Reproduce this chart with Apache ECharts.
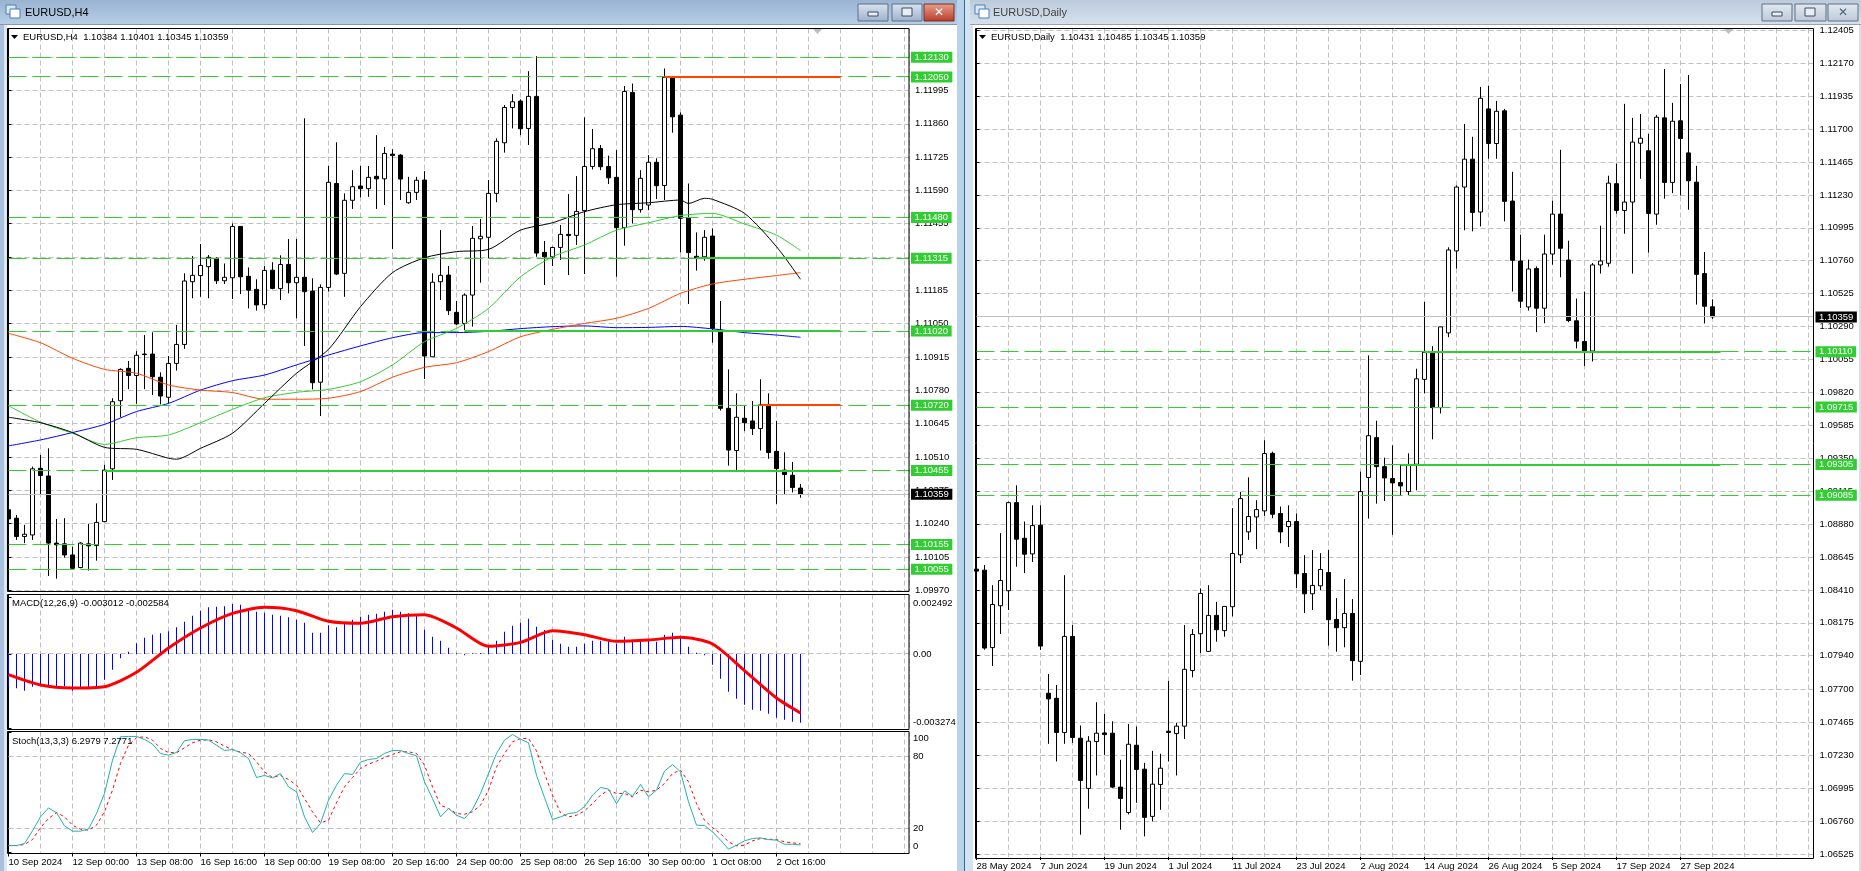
<!DOCTYPE html>
<html>
<head>
<meta charset="utf-8">
<title>EURUSD</title>
<style>
  html, body { margin: 0; padding: 0; background: #fff; overflow: hidden; }
  #chart { width: 1861px; height: 871px; }
</style>
<script src="https://cdn.jsdelivr.net/npm/echarts@6/dist/echarts.min.js"></script>
</head>
<body>
<div id="chart"></div>
<script>
// H4 candles
const h4Open = [
  1.10296,1.10262,1.10188,1.10194,1.10464,1.10433,1.10161,1.10158,1.10113,1.10062,
  1.10158,1.10151,1.10248,1.10462,1.10738,1.10869,1.10840,1.10927,1.10927,1.10833,
  1.10752,1.10889,1.10966,1.11220,1.11245,1.11281,1.11315,1.11224,1.11236,1.11444,
  1.11242,1.11189,1.11127,1.11267,1.11192,1.11290,1.11216,1.11238,1.11182,1.10813,
  1.11197,1.11618,1.11254,1.11550,1.11608,1.11597,1.11647,1.11637,1.11737,1.11733,
  1.11540,1.11582,1.11632,1.10916,1.11220,1.11247,1.11096,1.11051,1.11166,1.11394,
  1.11400,1.11578,1.11783,1.11926,1.11952,1.11841,1.11971,1.11339,1.11321,1.11359,
  1.11412,1.11408,1.11508,1.11687,1.11760,1.11687,1.11643,1.11439,1.11987,1.11512,
  1.11531,1.11704,1.11610,1.12048,1.11895,1.11479,1.11323,1.11321,1.11405,1.11024,
  1.10707,1.10536,1.10667,1.10656,1.10625,1.10723,1.10533,1.10457,1.10436,1.10384
];
const h4High = [
  1.10343,1.10275,1.10235,1.10471,1.10518,1.10545,1.10259,1.10262,1.10147,1.10165,
  1.10239,1.10322,1.10478,1.10748,1.10869,1.10899,1.10939,1.11004,1.11015,1.10853,
  1.10919,1.11045,1.11254,1.11324,1.11373,1.11328,1.11319,1.11294,1.11456,1.11444,
  1.11278,1.11230,1.11284,1.11299,1.11327,1.11393,1.11393,1.11882,1.11234,1.11209,
  1.11689,1.11785,1.11578,1.11672,1.11689,1.11689,1.11814,1.11766,1.11757,1.11737,
  1.11645,1.11645,1.11668,1.11254,1.11429,1.11284,1.11142,1.11173,1.11446,1.11474,
  1.11632,1.11801,1.11936,1.11980,1.11959,1.12073,1.12134,1.11385,1.11362,1.11450,
  1.11575,1.11648,1.11886,1.11839,1.11774,1.11731,1.11753,1.12013,1.12023,1.11672,
  1.11733,1.11720,1.12084,1.12048,1.11906,1.11618,1.11420,1.11429,1.11436,1.11142,
  1.10865,1.10768,1.10717,1.10737,1.10825,1.10768,1.10656,1.10529,1.10490,1.10401
];
const h4Low = [
  1.10161,1.10174,1.10161,1.10174,1.10360,1.10028,1.10017,1.10102,1.10057,1.10059,
  1.10050,1.10090,1.10245,1.10417,1.10671,1.10785,1.10725,1.10785,1.10761,1.10723,
  1.10727,1.10860,1.10948,1.11153,1.11159,1.11153,1.11211,1.11211,1.11150,1.11170,
  1.11112,1.11103,1.11110,1.11189,1.11146,1.11173,1.11072,1.10960,1.10784,1.10676,
  1.11180,1.11247,1.11159,1.11515,1.11562,1.11564,1.11515,1.11531,1.11353,1.11551,
  1.11536,1.11551,1.10826,1.10916,1.11146,1.11085,1.11045,1.11024,1.11038,1.11216,
  1.11315,1.11542,1.11743,1.11841,1.11814,1.11774,1.11321,1.11207,1.11284,1.11308,
  1.11247,1.11369,1.11251,1.11675,1.11672,1.11616,1.11240,1.11366,1.11456,1.11500,
  1.11510,1.11555,1.11551,1.11824,1.11339,1.11130,1.11265,1.11305,1.10973,1.10698,
  1.10475,1.10455,1.10615,1.10599,1.10536,1.10503,1.10320,1.10360,1.10366,1.10345
];
const h4Close = [
  1.10259,1.10188,1.10197,1.10462,1.10435,1.10161,1.10154,1.10113,1.10059,1.10161,
  1.10150,1.10245,1.10457,1.10734,1.10865,1.10840,1.10922,1.10925,1.10835,1.10757,
  1.10889,1.10966,1.11223,1.11246,1.11286,1.11319,1.11224,1.11238,1.11444,1.11240,
  1.11186,1.11126,1.11266,1.11193,1.11290,1.11216,1.11238,1.11180,1.10811,1.11197,
  1.11623,1.11251,1.11550,1.11605,1.11597,1.11643,1.11637,1.11740,1.11731,1.11636,
  1.11582,1.11631,1.10919,1.11218,1.11246,1.11103,1.11049,1.11166,1.11396,1.11404,
  1.11578,1.11789,1.11926,1.11949,1.11840,1.11971,1.11336,1.11321,1.11359,1.11412,
  1.11407,1.11505,1.11687,1.11759,1.11686,1.11641,1.11439,1.11991,1.11512,1.11639,
  1.11704,1.11609,1.12048,1.11888,1.11477,1.11338,1.11317,1.11400,1.11031,1.10707,
  1.10538,1.10671,1.10649,1.10625,1.10721,1.10528,1.10463,1.10439,1.10386,1.10359
];

// moving averages, read at these bars
const maBars = [0,4,8,12,16,20,24,28,32,36,40,44,48,52,56,60,64,68,72,76,80,84,88,92,96,99];
const maBlackBars = [0,4,8,12,16,20,21,24,28,32,36,40,44,48,52,56,60,64,68,72,76,80,84,85,87,88,92,96,99];
const maBlack = [
  1.10671,1.10649,1.10609,1.10549,1.10541,1.10505,1.10501,1.10545,1.10606,1.10727,
  1.10849,1.10946,1.11119,1.11257,1.11317,1.11342,1.11351,1.11429,1.11459,1.11504,
  1.11532,1.11540,1.11551,1.11537,1.11558,1.11554,1.11497,1.11362,1.11230
];
const maGreen = [
  1.10718,1.10651,1.10606,1.10561,1.10588,1.10599,1.10649,1.10703,1.10750,1.10772,
  1.10784,1.10815,1.10883,1.10977,1.11031,1.11112,1.11240,1.11321,1.11369,1.11429,
  1.11459,1.11488,1.11497,1.11454,1.11409,1.11346
];
const maOrange = [
  1.11011,1.10973,1.10910,1.10865,1.10849,1.10802,1.10781,1.10771,1.10744,1.10744,
  1.10748,1.10775,1.10833,1.10873,1.10892,1.10937,1.10997,1.11027,1.11051,1.11072,
  1.11112,1.11173,1.11211,1.11230,1.11245,1.11257
];
const maBlue = [
  1.10555,1.10579,1.10609,1.10642,1.10694,1.10727,1.10781,1.10819,1.10842,1.10883,
  1.10923,1.10960,1.10993,1.11014,1.11014,1.11019,1.11030,1.11038,1.11041,1.11034,
  1.11035,1.11039,1.11029,1.11014,1.11004,1.10995
];

// MACD panel
const macdHist = [
  -0.001417,-0.001505,-0.001607,-0.001432,-0.001388,-0.001388,-0.001417,-0.001417,-0.001607,-0.001490,
  -0.001490,-0.001461,-0.001125,-0.000687,-0.000190,0.000102,0.000468,0.000716,0.000847,0.000906,
  0.000993,0.001169,0.001417,0.001680,0.001899,0.002045,0.002075,0.002089,0.002192,0.002162,
  0.001972,0.001855,0.001812,0.001724,0.001680,0.001607,0.001505,0.001373,0.000935,0.000935,
  0.001256,0.001169,0.001388,0.001505,0.001636,0.001724,0.001768,0.001855,0.001943,0.001855,
  0.001782,0.001680,0.001067,0.000760,0.000584,0.000278,0.000029,-0.000058,0.000029,0.000044,
  0.000365,0.000584,0.000979,0.001242,0.001373,0.001549,0.001198,0.001052,0.000628,0.000453,
  0.000321,0.000321,0.000453,0.000584,0.000584,0.000584,0.000453,0.000760,0.000628,0.000584,
  0.000584,0.000541,0.000847,0.000935,0.000701,0.000321,0.000058,-0.000058,-0.000468,-0.001081,
  -0.001651,-0.001958,-0.002221,-0.002440,-0.002484,-0.002615,-0.002791,-0.002878,-0.002966,-0.003012
];
const macdSignal = [
  -0.000906,-0.001359,-0.001490,-0.001432,-0.000804,0.000263,0.001140,0.001782,0.002045,0.001899,
  0.001432,0.001344,0.001636,0.001724,0.001140,0.000336,0.000511,0.001023,0.000847,0.000555,
  0.000614,0.000731,0.000438,-0.000731,-0.001929,-0.002584
];

// stochastic panel
const stochMain = [
  5.8,5.8,7.5,18.1,29.7,37.2,33.1,22.2,17.8,17.8,
  19.7,32.5,49.2,76.9,96.4,96.7,96.7,94.2,90.3,82.5,
  81.1,83.3,93.1,94.2,94.2,93.6,89.4,85.0,85.8,83.1,
  78.3,62.5,64.2,62.2,65.8,54.7,50.6,29.7,16.7,24.2,
  43.6,56.1,65.8,65.0,75.3,77.5,78.3,82.5,85.0,85.0,
  82.5,80.6,58.9,45.0,29.7,36.7,31.1,28.3,35.8,49.2,
  65.8,82.5,93.6,98.3,94.4,91.4,64.4,45.8,27.5,29.7,
  32.5,33.3,38.1,47.8,54.2,52.8,40.8,51.4,46.9,56.7,
  46.4,51.9,67.8,73.3,67.2,42.2,22.8,22.5,17.2,10.3,
  2.8,6.1,9.7,11.7,12.2,10.8,10.3,6.9,6.9,6.2979
];
const stochSignal = [
  5.8,5.8,6.7,10.8,20.8,28.3,33.3,29.7,22.8,19.4,
  18.6,22.8,33.9,51.9,74.2,89.4,95.6,96.4,93.6,86.7,
  83.3,83.1,87.2,91.4,93.6,93.9,92.2,88.6,85.8,83.6,
  82.5,75.6,67.2,62.5,64.2,60.8,56.1,45.0,33.9,24.7,
  26.9,41.4,54.7,62.5,70.0,73.6,76.1,79.2,81.7,83.9,
  83.9,82.5,72.8,54.7,39.4,36.7,32.5,31.9,33.9,39.4,
  51.9,71.4,82.5,92.2,95.0,95.0,84.7,65.8,47.8,33.1,
  29.7,31.1,34.7,40.8,47.8,51.9,49.2,49.2,46.4,51.9,
  50.6,51.9,57.5,65.8,68.6,58.9,40.8,26.9,20.8,15.8,
  8.9,5.6,6.1,9.7,11.7,11.1,10.8,8.9,8.1,7.2771
];

// daily candles
const dayOpen = [
  1.08558,1.08551,1.07998,1.08297,1.08404,1.09033,1.08779,1.08667,1.08872,1.07672,
  1.07636,1.07392,1.08078,1.07351,1.06993,1.07327,1.07389,1.07387,1.07002,1.06821,
  1.07301,1.07130,1.06793,1.07021,1.07401,1.07384,1.07437,1.07834,1.08097,1.07971,
  1.08228,1.08119,1.08290,1.08660,1.08824,1.08931,1.08974,1.09385,1.08955,1.08862,
  1.08898,1.08527,1.08382,1.08439,1.08534,1.08199,1.08140,1.08242,1.07900,1.09212,
  1.09497,1.09290,1.09205,1.09176,1.09112,1.09307,1.09913,1.10107,1.09711,1.10245,
  1.10830,1.11286,1.11485,1.11108,1.11844,1.11597,1.11830,1.11186,1.10758,1.10430,
  1.10704,1.10421,1.10808,1.11093,1.10765,1.10331,1.10183,1.10115,1.10730,1.10742,
  1.11310,1.11119,1.11179,1.11599,1.11545,1.11093,1.11780,1.11319,1.11759,1.11530,
  1.11321,1.10668,1.10431
];
const dayHigh = [
  1.08884,1.08587,1.08444,1.08815,1.09040,1.09157,1.08898,1.09014,1.09014,1.07810,
  1.07731,1.08515,1.08159,1.07442,1.07366,1.07608,1.07525,1.07472,1.07197,1.07453,
  1.07434,1.07175,1.07261,1.07240,1.07760,1.07461,1.08159,1.08130,1.08420,1.08444,
  1.08325,1.08292,1.08993,1.09109,1.09214,1.09050,1.09478,1.09397,1.09005,1.09014,
  1.08955,1.08658,1.08694,1.08672,1.08694,1.08351,1.08487,1.08344,1.09254,1.10084,
  1.09618,1.09354,1.09442,1.09302,1.09385,1.09989,1.10466,1.10150,1.10288,1.10856,
  1.11298,1.11737,1.11645,1.12001,1.12008,1.11901,1.11844,1.11395,1.10946,1.10768,
  1.10720,1.10946,1.11188,1.11552,1.10903,1.10490,1.10540,1.10744,1.11010,1.11367,
  1.11454,1.11880,1.11780,1.11808,1.11666,1.11801,1.12129,1.11887,1.12022,1.12086,
  1.11438,1.10822,1.10485
];
const dayLow = [
  1.08451,1.07983,1.07867,1.08095,1.08266,1.08575,1.08530,1.08610,1.07981,1.07311,
  1.07185,1.07311,1.07318,1.06662,1.06848,1.07085,1.07232,1.06995,1.06698,1.06807,
  1.06890,1.06650,1.06757,1.06840,1.07185,1.07085,1.07346,1.07786,1.07959,1.07969,
  1.08040,1.08076,1.08221,1.08601,1.08767,1.08701,1.08938,1.08922,1.08743,1.08717,
  1.08423,1.08245,1.08266,1.08408,1.08012,1.07969,1.08000,1.07762,1.07803,1.08919,
  1.09026,1.09045,1.08803,1.09088,1.09088,1.09121,1.09813,1.09485,1.09670,1.10214,
  1.10704,1.10977,1.10970,1.11005,1.11488,1.11488,1.11041,1.10540,1.10423,1.10404,
  1.10250,1.10314,1.10732,1.10642,1.10321,1.10134,1.10008,1.10041,1.10668,1.10718,
  1.11096,1.10953,1.10668,1.11345,1.10818,1.11017,1.11203,1.11243,1.11226,1.11124,
  1.10447,1.10312,1.10345
];
const dayClose = [
  1.08544,1.07995,1.08306,1.08477,1.09033,1.08772,1.08665,1.08869,1.08009,1.07632,
  1.07392,1.08078,1.07356,1.07050,1.07330,1.07387,1.07377,1.07002,1.06921,1.07308,
  1.07128,1.06786,1.07023,1.07137,1.07392,1.07437,1.07843,1.08092,1.08385,1.08228,
  1.08126,1.08292,1.08670,1.09062,1.08934,1.08983,1.09383,1.08950,1.08824,1.08898,
  1.08525,1.08382,1.08442,1.08556,1.08197,1.08140,1.08242,1.07905,1.09112,1.09511,
  1.09290,1.09209,1.09174,1.09152,1.09300,1.09917,1.10107,1.09711,1.10288,1.10837,
  1.11286,1.11485,1.11105,1.11920,1.11597,1.11827,1.11184,1.10763,1.10471,1.10701,
  1.10421,1.10808,1.11093,1.10849,1.10333,1.10186,1.10115,1.10730,1.10758,1.11314,
  1.11119,1.11179,1.11607,1.11635,1.11098,1.11785,1.11319,1.11756,1.11633,1.11331,
  1.10663,1.10435,1.10359
];

// tick labels
const h4TimeLabels = ['10 Sep 2024','12 Sep 00:00','13 Sep 08:00','16 Sep 16:00','18 Sep 00:00','19 Sep 08:00','20 Sep 16:00','24 Sep 00:00','25 Sep 08:00','26 Sep 16:00','30 Sep 00:00','1 Oct 08:00','2 Oct 16:00'];
const dayTimeLabels = ['28 May 2024','7 Jun 2024','19 Jun 2024','1 Jul 2024','11 Jul 2024','23 Jul 2024','2 Aug 2024','14 Aug 2024','26 Aug 2024','5 Sep 2024','17 Sep 2024','27 Sep 2024'];
const h4PriceTicks = [1.1213,1.11995,1.1186,1.11725,1.1159,1.11455,1.1132,1.11185,1.1105,1.10915,1.1078,1.10645,1.1051,1.10375,1.1024,1.10105,1.0997];
const dayPriceTicks = [1.12405,1.1217,1.11935,1.117,1.11465,1.1123,1.10995,1.1076,1.10525,1.1029,1.10055,1.0982,1.09585,1.0935,1.09115,1.0888,1.08645,1.0841,1.08175,1.0794,1.077,1.07465,1.0723,1.06995,1.0676,1.06525];
const macdTicks = [0.002492,0,-0.003274];
const stochTicks = [100,80,20,0];
const stochLevels = [80,20];

// horizontal levels: dashed across with a tag, solid pieces are [price, fromBar, toBar]
const h4Levels = [1.1213,1.1205,1.1148,1.11315,1.1102,1.1072,1.10455,1.10155,1.10055];
const h4GreenRuns = [[1.11315,86,104],[1.1102,57,104],[1.10455,12,104]];
const h4RedRuns = [[1.1205,82,104],[1.1072,94,104]];
const dayLevels = [1.1011,1.09715,1.09305,1.09085];
const dayGreenRuns = [[1.1011,56,93],[1.09305,53,93]];
const lastPrice = 1.10359;

const FONT = "'Liberation Sans',sans-serif";
const FONT_SIZE = 9.5;
const GREEN = '#32cd32';
const RED_LINE = '#ff4500';
const GRID_COLOR = '#c0c0c0';
const H4_MAX = 112.56;
const DAY_MAX = 104.62;

const chart = echarts.init(document.getElementById('chart'));

function candles(o, h, l, c) {
  return o.map((v, i) => [i, v, c[i], l[i], h[i]]);
}
function zip(xs, ys) {
  return xs.map((x, i) => [x, ys[i]]);
}
function onBars(ys) {
  return ys.map((y, i) => [i, y]);
}

function candleSeries(axis, data) {
  return {
    type: 'candlestick', xAxisIndex: axis, yAxisIndex: axis, data: data, clip: false,
    barWidth: 4, silent: true, z: 2,
    itemStyle: { color: '#fff', color0: '#000', borderColor: '#000', borderColor0: '#000', borderWidth: 1 }
  };
}
function lineSeries(axis, data, color, width, extra) {
  return Object.assign({
    type: 'line', xAxisIndex: axis, yAxisIndex: axis, data: data, showSymbol: false, silent: true, z: 3,
    lineStyle: { color: color, width: width }
  }, extra || {});
}
function maSeries(axis, data, color, width) {
  return lineSeries(axis, data, color, width, { smooth: 0.25 });
}
// flat price lines snapped to whole pixels, rows are [price, fromBar, toBar]
function flatLines(axis, rows, color, width, dash, z) {
  return {
    type: 'custom', xAxisIndex: axis, yAxisIndex: axis, silent: true, z: z, clip: false,
    data: rows, encode: { x: [1, 2], y: 0 },
    renderItem: function (params, api) {
      const a = api.coord([api.value(1), api.value(0)]);
      const b = api.coord([api.value(2), api.value(0)]);
      const y = width % 2 ? Math.floor(a[1]) + 0.5 : Math.round(a[1]);
      return {
        type: 'line', shape: { x1: a[0], y1: y, x2: b[0], y2: y },
        style: { stroke: color, lineWidth: width, lineDash: dash, fill: null }
      };
    }
  };
}
// the tags at the right of the price scale
function tagSeries(axis, values, bg) {
  return {
    type: 'line', xAxisIndex: axis, yAxisIndex: axis, data: [], silent: true,
    markLine: {
      silent: true, symbol: 'none', animation: false, precision: 5,
      lineStyle: { color: 'rgba(0,0,0,0)', width: 0 },
      label: {
        position: 'end', distance: 2, color: '#fff', backgroundColor: bg, fontFamily: FONT, fontSize: FONT_SIZE,
        padding: [1, 3.5, 0, 3.5], lineHeight: 10, formatter: p => p.value.toFixed(5)
      },
      data: values.map(v => ({ yAxis: v }))
    }
  };
}
function levelRows(levels, maxBar) {
  return levels.map(v => [v, 0, maxBar]);
}
function runRows(runs) {
  return runs.map(r => [r[0], r[1], r[2]]);
}

// vertical grid every 4 bars
function barAxis(gridIndex, maxBar) {
  return {
    type: 'value', gridIndex: gridIndex, min: 0, max: maxBar, interval: 4,
    axisLine: { show: false }, axisTick: { show: false }, axisLabel: { show: false },
    splitLine: { show: true, lineStyle: { color: GRID_COLOR, width: 1, type: [5, 3] } }
  };
}
// time labels every 8 bars, left aligned on the tick
function timeAxis(gridIndex, maxBar, labels) {
  const ticks = labels.map((_, k) => k * 8);
  return {
    type: 'value', gridIndex: gridIndex, min: 0, max: maxBar, position: 'bottom',
    axisLine: { show: false }, splitLine: { show: false },
    axisTick: { show: true, length: 3, inside: false, customValues: ticks, lineStyle: { color: '#000' } },
    axisLabel: {
      show: true, customValues: ticks, align: 'left', margin: 4, color: '#000', fontFamily: FONT, fontSize: FONT_SIZE,
      hideOverlap: false, formatter: v => labels[Math.round(v / 8)]
    }
  };
}
function priceAxis(gridIndex, min, max, ticks) {
  return {
    type: 'value', gridIndex: gridIndex, position: 'right', min: min, max: max, scale: true,
    axisLine: { show: true, lineStyle: { color: '#000' } },
    axisTick: { show: true, length: 3, customValues: ticks, lineStyle: { color: '#000' } },
    axisLabel: {
      customValues: ticks, margin: 6, color: '#000', fontFamily: FONT, fontSize: FONT_SIZE,
      hideOverlap: false, formatter: v => v.toFixed(5)
    },
    splitLine: { show: true, lineStyle: { color: GRID_COLOR, width: 1, type: [5, 3] } }
  };
}
// MACD and stochastic: outer labels sit inside the panel, so they are nudged by padding
function indicatorAxis(gridIndex, min, max, ticks, format) {
  return {
    type: 'value', gridIndex: gridIndex, position: 'right', min: min, max: max,
    axisLine: { show: true, lineStyle: { color: '#000' } },
    axisTick: { show: true, length: 3, customValues: ticks, lineStyle: { color: '#000' } },
    axisLabel: {
      customValues: ticks, margin: 4, color: '#000', fontFamily: FONT, fontSize: FONT_SIZE, hideOverlap: false,
      formatter: format,
      rich: {
        down: { fontFamily: FONT, fontSize: FONT_SIZE, padding: [12, 0, 0, 0] },
        up: { fontFamily: FONT, fontSize: FONT_SIZE, padding: [0, 0, 12, 0] }
      }
    },
    splitLine: { show: false }
  };
}

const grids = [
  { left: 8.5, top: 28.5, width: 900.5, height: 563 },
  { left: 8.5, top: 594.5, width: 900.5, height: 135 },
  { left: 8.5, top: 731.5, width: 900.5, height: 122 },
  { left: 976.5, top: 28.5, width: 837, height: 830 }
];

const xAxes = [
  barAxis(0, H4_MAX), barAxis(1, H4_MAX), barAxis(2, H4_MAX), barAxis(3, DAY_MAX),
  timeAxis(2, H4_MAX, h4TimeLabels), timeAxis(3, DAY_MAX, dayTimeLabels)
];
const yAxes = [
  priceAxis(0, 1.09965, 1.12246, h4PriceTicks),
  indicatorAxis(1, -0.00331, 0.002608, macdTicks, v => {
    if (v > 0) return '{down|' + v.toFixed(6) + '}';
    if (v < 0) return '{up|' + v.toFixed(6) + '}';
    return '0.00';
  }),
  indicatorAxis(2, -0.8, 100.8, stochTicks, v => {
    if (v === 100) return '{down|100}';
    if (v === 0) return '{up|0}';
    return String(v);
  }),
  priceAxis(3, 1.06503, 1.12418, dayPriceTicks)
];

const series = [
  candleSeries(0, candles(h4Open, h4High, h4Low, h4Close)),
  maSeries(0, zip(maBars, maBlue), '#0000ff', 1),
  maSeries(0, zip(maBars, maOrange), RED_LINE, 1),
  maSeries(0, zip(maBars, maGreen), GREEN, 1),
  maSeries(0, zip(maBlackBars, maBlack), '#000', 1),
  flatLines(0, [[lastPrice, 0, H4_MAX]], GRID_COLOR, 1, null, 4),
  flatLines(0, levelRows(h4Levels, H4_MAX), GREEN, 1, [18, 6], 5),
  flatLines(0, runRows(h4GreenRuns), GREEN, 2, null, 6),
  flatLines(0, runRows(h4RedRuns), RED_LINE, 2, null, 6),
  tagSeries(0, h4Levels, GREEN),
  tagSeries(0, [lastPrice], '#000'),

  flatLines(1, [[0, 0, H4_MAX]], GRID_COLOR, 1, [5, 3], 1),
  { type: 'bar', xAxisIndex: 1, yAxisIndex: 1, data: onBars(macdHist), barWidth: 1, silent: true, itemStyle: { color: '#0000ff' } },
  maSeries(1, zip(maBars, macdSignal), '#ff0000', 3),

  flatLines(2, levelRows(stochLevels, H4_MAX), GRID_COLOR, 1, [5, 3], 1),
  lineSeries(2, onBars(stochSignal), '#ff0000', 1, { lineStyle: { color: '#ff0000', width: 1, type: [3, 3] } }),
  lineSeries(2, onBars(stochMain), '#20b2aa', 1),

  candleSeries(3, candles(dayOpen, dayHigh, dayLow, dayClose)),
  flatLines(3, [[lastPrice, 0, DAY_MAX]], GRID_COLOR, 1, null, 4),
  flatLines(3, levelRows(dayLevels, DAY_MAX), GREEN, 1, [18, 6], 5),
  flatLines(3, runRows(dayGreenRuns), GREEN, 2, null, 6),
  tagSeries(3, dayLevels, GREEN),
  tagSeries(3, [lastPrice], '#000')
];

// window frames around the charts
function rect(x, y, w, h, fill) {
  return { type: 'rect', z: 20, silent: true, shape: { x: x, y: y, width: w, height: h }, style: { fill: fill } };
}
function box(x, y, w, h, color) {
  return { type: 'rect', z: 21, silent: true, shape: { x: x, y: y, width: w, height: h }, style: { fill: 'none', stroke: color || '#000', lineWidth: 1 } };
}
function text(x, y, str, size, color) {
  return { type: 'text', z: 22, silent: true, style: { x: x, y: y, text: str, fill: color || '#000', font: size + "px " + FONT, verticalAlign: 'middle' } };
}
function vGrad(a, b) {
  return new echarts.graphic.LinearGradient(0, 0, 0, 1, [{ offset: 0, color: a }, { offset: 1, color: b }]);
}
function tri(x, y, w, h, color) {
  return { type: 'polygon', z: 22, silent: true, shape: { points: [[x, y], [x + w, y], [x + w / 2, y + h]] }, style: { fill: color } };
}
function winButton(x, w, active, glyph) {
  const top = active ? '#d9e3ef' : '#e2e9f1';
  const bottom = active ? '#9db2cc' : '#bcc9d8';
  const out = [
    Object.assign(rect(x, 4, w, 17), { style: { fill: vGrad(top, bottom), stroke: '#5f6f85', lineWidth: 1 } })
  ];
  if (glyph === 'min') out.push(Object.assign(rect(x + 10, 12, 10, 4), { z: 22, style: { fill: '#e8eef5', stroke: '#3f4d60', lineWidth: 1 } }));
  if (glyph === 'max') out.push(Object.assign(rect(x + 10, 8, 10, 8), { z: 22, style: { fill: '#e8eef5', stroke: '#3f4d60', lineWidth: 1 } }));
  return out;
}
function closeButton(x, active) {
  const top = active ? '#e8a08f' : '#e2e9f1';
  const bottom = active ? '#b83c26' : '#bcc9d8';
  return [
    Object.assign(rect(x, 4, 30, 17), { style: { fill: vGrad(top, bottom), stroke: active ? '#7a2c20' : '#5f6f85', lineWidth: 1 } }),
    { type: 'text', z: 22, silent: true, style: { x: x + 15, y: 13, text: '✕', fill: active ? '#fff' : '#4f5f73', font: "bold 12px 'DejaVu Sans'", align: 'center', verticalAlign: 'middle' } }
  ];
}
function winIcon(x) {
  return [
    Object.assign(rect(x, 5, 10, 9), { z: 21, style: { fill: '#dbe8f6', stroke: '#4a7fb5', lineWidth: 1 } }),
    Object.assign(rect(x + 4, 9, 10, 9), { z: 22, style: { fill: '#fff', stroke: '#4a7fb5', lineWidth: 1 } })
  ];
}

const chrome = [
  // left window
  rect(0, 0, 957, 25, vGrad('#9ab3d1', '#b7cfe8')),
  rect(0, 24, 957, 1, '#8a97a6'),
  rect(0, 25, 4, 846, '#a9c1de'),
  rect(4, 25, 3, 846, '#dce7f3'),
  ...winIcon(6),
  text(25, 13, 'EURUSD,H4', 11),
  ...winButton(858, 30, true, 'min'),
  ...winButton(892, 30, true, 'max'),
  ...closeButton(924, true),
  tri(11, 35, 7, 4, '#000'),
  text(23, 37, 'EURUSD,H4  1.10384 1.10401 1.10345 1.10359', FONT_SIZE),
  text(12, 603, 'MACD(12,26,9) -0.003012 -0.002584', FONT_SIZE),
  text(12, 741, 'Stoch(13,3,3) 6.2979 7.2771', FONT_SIZE),
  tri(813, 29, 9, 5, '#bdbdbd'),
  box(7.5, 28.5, 901.5, 563),
  box(7.5, 594.5, 901.5, 135),
  box(7.5, 731.5, 901.5, 122),
  // gap between the windows
  rect(957, 0, 8, 871, '#b9d3ea'),
  rect(964, 0, 1, 871, '#2a6a8a'),
  rect(965, 0, 8, 871, '#d5e3f0'),
  // right window
  rect(970, 0, 891, 25, vGrad('#bccbdb', '#d6e2ee')),
  rect(970, 24, 891, 1, '#9aa3ad'),
  ...winIcon(975),
  text(993, 13, 'EURUSD,Daily', 11, '#444'),
  ...winButton(1762, 30, false, 'min'),
  ...winButton(1795, 31, false, 'max'),
  ...closeButton(1828, false),
  tri(979, 35, 7, 4, '#000'),
  text(991, 37, 'EURUSD,Daily  1.10431 1.10485 1.10345 1.10359', FONT_SIZE),
  tri(1724, 29, 9, 5, '#bdbdbd'),
  box(975.5, 28.5, 838, 830),
  rect(1859, 25, 2, 846, '#d5e3f0')
];

chart.setOption({
  animation: false,
  backgroundColor: '#fff',
  grid: grids,
  xAxis: xAxes,
  yAxis: yAxes,
  series: series,
  graphic: { elements: chrome }
});
window.addEventListener('resize', () => chart.resize());
</script>
</body>
</html>
